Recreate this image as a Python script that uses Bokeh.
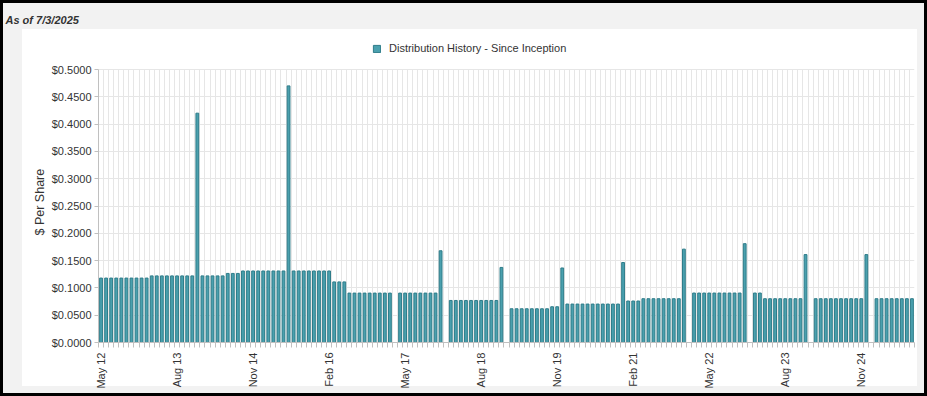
import math
from bokeh.plotting import figure
from bokeh.models import (ColumnDataSource, FixedTicker, NumeralTickFormatter, Legend, LegendItem,
                          Title, Range1d, GlobalInlineStyleSheet)
from bokeh.embed import file_html
from bokeh.resources import INLINE

# Monthly distributions ($ per share), May 2012 .. Sep 2025; None = no distribution that month
d2012 = [0.1180, 0.1180, 0.1180, 0.1180, 0.1180, 0.1180, 0.1180, 0.1180]
d2013 = [0.1180, 0.1180, 0.1220, 0.1220, 0.1220, 0.1220, 0.1220, 0.1220, 0.1220, 0.1220, 0.1220, 0.4200]
d2014 = [0.1220, 0.1220, 0.1220, 0.1220, 0.1220, 0.1265, 0.1265, 0.1265, 0.1310, 0.1310, 0.1310, 0.1310]
d2015 = [0.1310, 0.1310, 0.1310, 0.1310, 0.1310, 0.4700, 0.1310, 0.1310, 0.1310, 0.1310, 0.1310, 0.1310]
d2016 = [0.1310, 0.1310, 0.1110, 0.1110, 0.1110, 0.0905, 0.0905, 0.0905, 0.0905, 0.0905, 0.0905, 0.0905]
d2017 = [0.0905, 0.0905, None, 0.0905, 0.0905, 0.0905, 0.0905, 0.0905, 0.0905, 0.0905, 0.0905, 0.1680]
d2018 = [None, 0.0770, 0.0770, 0.0770, 0.0770, 0.0770, 0.0770, 0.0770, 0.0770, 0.0770, 0.0770, 0.1375]
d2019 = [None, 0.0618, 0.0618, 0.0618, 0.0618, 0.0618, 0.0618, 0.0618, 0.0618, 0.0655, 0.0655, 0.1365]
d2020 = [0.0704, 0.0704, 0.0704, 0.0704, 0.0704, 0.0704, 0.0704, 0.0704, 0.0704, 0.0704, 0.0704, 0.1465]
d2021 = [0.0760, 0.0760, 0.0760, 0.0802, 0.0802, 0.0802, 0.0802, 0.0802, 0.0802, 0.0802, 0.0802, 0.1710]
d2022 = [None, 0.0906, 0.0906, 0.0906, 0.0906, 0.0906, 0.0906, 0.0906, 0.0906, 0.0906, 0.0906, 0.1810]
d2023 = [None, 0.0906, 0.0906, 0.0802, 0.0802, 0.0802, 0.0802, 0.0802, 0.0802, 0.0802, 0.0802, 0.1610]
d2024 = [None, 0.0802, 0.0802, 0.0802, 0.0802, 0.0802, 0.0802, 0.0802, 0.0802, 0.0802, 0.0802, 0.1610]
d2025 = [None, 0.0802, 0.0802, 0.0802, 0.0802, 0.0802, 0.0802, 0.0802, 0.0802]

tick_labels = ["May 12", "Aug 13", "Nov 14", "Feb 16", "May 17", "Aug 18",
               "Nov 19", "Feb 21", "May 22", "Aug 23", "Nov 24"]
label_every = 15
y_ticks = [0.0, 0.05, 0.10, 0.15, 0.20, 0.25, 0.30, 0.35, 0.40, 0.45, 0.50]
y_max = 0.5

series_name = "Distribution History - Since Inception"
y_title = "$ Per Share"
as_of = "As of 7/3/2025"

values = d2012 + d2013 + d2014 + d2015 + d2016 + d2017 + d2018 + d2019 + d2020 + d2021 + d2022 + d2023 + d2024 + d2025
n = len(values)
xs = [i for i, v in enumerate(values) if v is not None]
tops = [v for v in values if v is not None]
src = ColumnDataSource(data=dict(x=xs, top=tops))

FONT = "Liberation Sans"
TXT = "#333333"

# Layout (canvas px): value axis 0..y_max spans 273 px; the frame reaches 40 px higher
# so the legend can sit inside it above the bars.
AXIS_PX = 273
EXTRA_PX = 40
y_end = y_max * (AXIS_PX + EXTRA_PX) / AXIS_PX

p = figure(width=921, height=390, title=None,
           x_range=Range1d(-0.5, n - 0.5), y_range=Range1d(0, y_end),
           output_backend="svg", toolbar_location=None,
           min_border_left=95, min_border_right=10, min_border_top=26, min_border_bottom=51,
           background_fill_alpha=0, border_fill_alpha=0,
           outline_line_color=None, margin=(3, 3, 3, 3),
           styles={"background": "linear-gradient(#ffffff, #ffffff) 19px 26px / 895px 357px no-repeat, #f2f2f2"})
p.stylesheets = [GlobalInlineStyleSheet(css="body { background: #000000; }")]

r = p.vbar(x="x", top="top", width=0.55, source=src,
           fill_color="#4aa0ae", line_color="#2e7c89", line_width=1)

# axes
label_pos = [i * label_every for i in range(len(tick_labels))]
bounds = [i - 0.5 for i in range(n + 1)]
p.xaxis.ticker = FixedTicker(ticks=label_pos, minor_ticks=bounds)
p.xaxis.major_label_overrides = {pos: lab for pos, lab in zip(label_pos, tick_labels)}
p.xaxis.major_label_orientation = math.pi / 2
p.xaxis.major_tick_line_color = None
p.xaxis.major_tick_out = 0
p.xaxis.major_tick_in = 0
p.xaxis.minor_tick_out = 5
p.xaxis.minor_tick_in = 0
p.xaxis.minor_tick_line_color = "#c0c0c0"
p.xaxis.axis_line_color = "#c0c0c0"
p.xaxis.major_label_standoff = 5
p.xaxis.major_label_text_font = FONT
p.xaxis.major_label_text_font_size = "11px"
p.xaxis.major_label_text_color = TXT

p.yaxis.ticker = FixedTicker(ticks=y_ticks)
p.yaxis.bounds = (0, y_max)
p.yaxis.formatter = NumeralTickFormatter(format="$0.0000")
p.yaxis.axis_line_color = "#c0c0c0"
p.yaxis.major_tick_line_color = "#c0c0c0"
p.yaxis.major_tick_out = 4
p.yaxis.major_tick_in = 0
p.yaxis.minor_tick_line_color = None
p.yaxis.major_label_standoff = 3
p.yaxis.major_label_text_font = FONT
p.yaxis.major_label_text_font_size = "11px"
p.yaxis.major_label_text_color = TXT

# value-axis title, placed on the value scale (not on the taller frame)
p.add_layout(Title(text=y_title, align="left", offset=107, standoff=4,
                   text_font=FONT, text_font_size="12.5px", text_font_style="normal",
                   text_color=TXT), "left")

GRID = "#e6e6e6"
p.ygrid.ticker = FixedTicker(ticks=y_ticks)
p.ygrid.grid_line_color = GRID
xg = p.xgrid[0]
if "cross_bounds" in xg.properties():
    xg.ticker = FixedTicker(ticks=bounds)
    xg.grid_line_color = GRID
    xg.cross_bounds = (0, y_max)
else:
    xg.visible = False
    p.segment(x0=bounds, y0=[0] * len(bounds), x1=bounds, y1=[y_max] * len(bounds),
              line_color=GRID, line_width=1, level="underlay")

legend = Legend(items=[LegendItem(label=series_name, renderers=[r])],
                location=(274, AXIS_PX + 15), orientation="horizontal",
                label_text_font=FONT, label_text_font_size="11px", label_text_color=TXT,
                glyph_width=9, glyph_height=9, label_standoff=8, label_height=12,
                padding=4, margin=0, spacing=0,
                background_fill_alpha=0, border_line_color=None)
p.add_layout(legend)

p.add_layout(Title(text=as_of, align="left", offset=-93, standoff=4, vertical_align="top",
                   text_font=FONT, text_font_size="11px", text_font_style="bold italic",
                   text_color=TXT), "above")

open("out.html", "w").write(file_html(p, INLINE))
